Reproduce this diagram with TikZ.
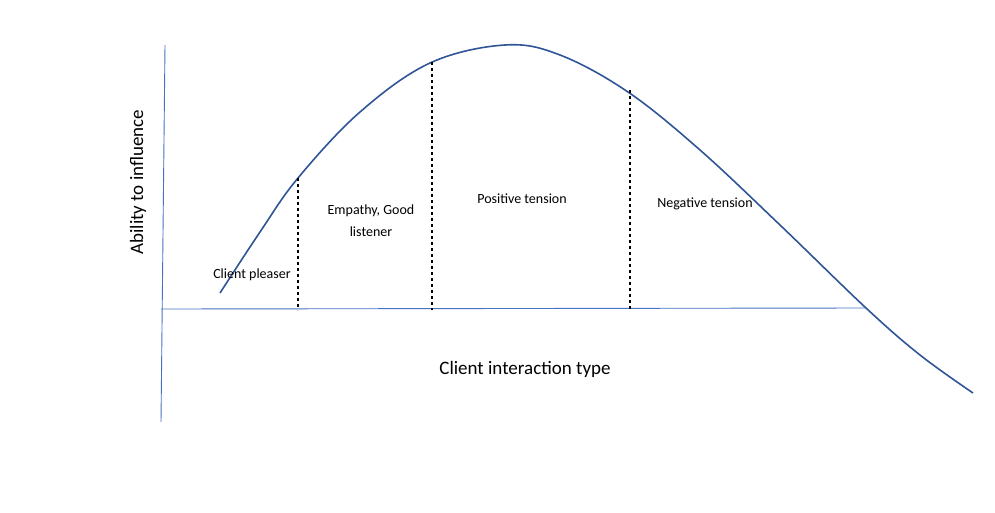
\documentclass[tikz,border=0pt]{standalone}
\usepackage{fontspec}
\setmainfont{Carlito}
\begin{document}
\begin{tikzpicture}[x=1pt,y=-1pt,
  axis/.style={draw={rgb,255:red,68;green,114;blue,196},line width=0.9pt},
  curve/.style={draw={rgb,255:red,47;green,85;blue,151},line width=1.6pt},
  divider/.style={draw=black,dashed,line width=1.3pt},
  lbl/.style={font=\fontsize{14}{16}\selectfont,align=center,inner sep=0pt},
  axlbl/.style={font=\fontsize{19}{22}\selectfont,inner sep=0pt}]
\useasboundingbox (0,0) rectangle (995,512);
\coordinate (ya) at (165,45); \coordinate (yb) at (161,422);
\coordinate (xa) at (161,309); \coordinate (xb) at (866,308);
\draw[axis] (ya) -- (yb);
\draw[axis] (xa) -- (xb);
\draw[curve] plot[smooth,tension=0.6] coordinates {(220,293) (260,232) (298,178) (360,112) (430,63) (505,45) (560,55) (628,92) (700,150) (780,225) (866,308) (920,355) (973,393)};
\coordinate (d1t) at (298,178); \coordinate (d1b) at (298,310);
\coordinate (d2t) at (432,62); \coordinate (d2b) at (432,310);
\coordinate (d3t) at (630,90); \coordinate (d3b) at (630,309);
\draw[divider] (d1t) -- (d1b);
\draw[divider] (d2t) -- (d2b);
\draw[divider] (d3t) -- (d3b);
\node[lbl] (l1) at (252,275) {Client pleaser};
\node[lbl] (l2) at (371,221) {Empathy, Good\\[6pt]listener};
\node[lbl] (l3) at (522,199) {Positive tension};
\node[lbl] (l4) at (705,204) {Negative tension};
\node[axlbl] (xl) at (525,369) {Client interaction type};
\node[axlbl,rotate=90] (yl) at (138,182) {Ability to influence};
\end{tikzpicture}
\end{document}
